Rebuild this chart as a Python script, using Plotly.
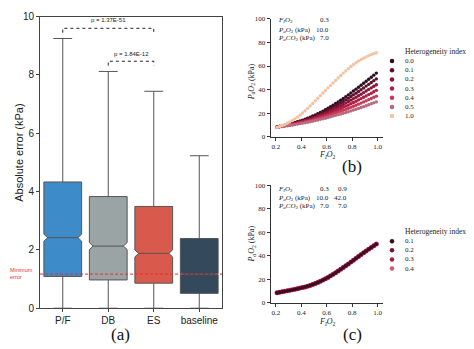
import plotly.graph_objects as go

# ---------------- data: panel (a) ----------------
methods = ["P/F", "DB", "ES", "baseline"]
upper_whisker = [9.25, 8.12, 7.44, 5.23]
q3_vals = [4.33, 3.83, 3.49, 2.39]
median_vals = [2.42, 2.13, 1.88, 1.17]
q1_vals = [1.09, 0.97, 0.86, 0.51]
lower_whisker = [0.0, 0.0, 0.0, 0.0]
notch_half = [0.12, 0.12, 0.12, 0.02]
box_colors = ["#3d8bc8", "#9aa4a5", "#d85a4c", "#35495d"]
min_error = 1.17
p_labels = ["p = 1.37E-51", "p = 1.84E-12"]

# ---------------- data: panel (b) ----------------
fio2 = [0.21, 0.23, 0.25, 0.27, 0.29, 0.31, 0.33, 0.35, 0.37, 0.39,
        0.41, 0.43, 0.45, 0.47, 0.49, 0.51, 0.53, 0.55, 0.57, 0.59,
        0.61, 0.63, 0.65, 0.67, 0.69, 0.71, 0.73, 0.75, 0.77, 0.79,
        0.81, 0.83, 0.85, 0.87, 0.89, 0.91, 0.93, 0.95, 0.97, 0.99]

b_h00 = [8.4, 8.9, 9.4, 9.9, 10.4, 11.0, 11.6, 12.2, 12.8, 13.5,
         14.2, 15.0, 15.8, 16.7, 17.6, 18.6, 19.6, 20.7, 21.8, 23.0,
         24.2, 25.5, 26.8, 28.2, 29.6, 31.0, 32.5, 34.0, 35.6, 37.2,
         38.8, 40.4, 42.0, 43.7, 45.4, 47.1, 48.8, 50.5, 52.3, 54.0]
b_h01 = [8.4, 8.8, 9.3, 9.7, 10.2, 10.7, 11.3, 11.8, 12.4, 13.0,
         13.7, 14.4, 15.1, 15.9, 16.7, 17.6, 18.5, 19.5, 20.5, 21.6,
         22.6, 23.8, 25.0, 26.2, 27.4, 28.7, 30.0, 31.3, 32.7, 34.2,
         35.6, 37.0, 38.4, 39.9, 41.4, 43.0, 44.5, 46.0, 47.6, 49.1]
b_h02 = [8.3, 8.7, 9.2, 9.6, 10.0, 10.5, 11.0, 11.5, 12.0, 12.6,
         13.2, 13.8, 14.4, 15.1, 15.9, 16.7, 17.5, 18.3, 19.2, 20.1,
         21.1, 22.1, 23.1, 24.2, 25.3, 26.4, 27.5, 28.6, 29.9, 31.1,
         32.4, 33.6, 34.8, 36.1, 37.5, 38.8, 40.2, 41.5, 42.9, 44.2]
b_h03 = [8.3, 8.7, 9.0, 9.4, 9.8, 10.2, 10.6, 11.1, 11.6, 12.1,
         12.6, 13.2, 13.8, 14.4, 15.0, 15.7, 16.4, 17.2, 17.9, 18.7,
         19.5, 20.4, 21.3, 22.2, 23.1, 24.0, 25.0, 26.0, 27.0, 28.1,
         29.1, 30.2, 31.3, 32.4, 33.5, 34.7, 35.8, 37.0, 38.2, 39.4]
b_h04 = [8.2, 8.6, 8.9, 9.3, 9.6, 10.0, 10.3, 10.8, 11.2, 11.7,
         12.1, 12.6, 13.1, 13.6, 14.2, 14.8, 15.4, 16.0, 16.6, 17.2,
         18.0, 18.7, 19.4, 20.2, 21.0, 21.7, 22.5, 23.3, 24.2, 25.0,
         25.9, 26.8, 27.7, 28.6, 29.6, 30.5, 31.5, 32.5, 33.5, 34.5]
b_h05 = [8.2, 8.5, 8.8, 9.1, 9.4, 9.7, 10.0, 10.4, 10.8, 11.2,
         11.6, 12.0, 12.4, 12.8, 13.3, 13.8, 14.3, 14.8, 15.3, 15.8,
         16.4, 17.0, 17.6, 18.2, 18.8, 19.4, 20.0, 20.6, 21.3, 22.0,
         22.7, 23.4, 24.1, 24.8, 25.6, 26.4, 27.2, 28.0, 28.8, 29.6]
b_h10 = [8.0, 8.8, 9.6, 10.5, 11.5, 12.6, 13.8, 15.2, 16.7, 18.4,
         20.2, 22.1, 24.1, 26.2, 28.3, 30.5, 32.7, 34.9, 37.1, 39.3,
         41.5, 43.6, 45.7, 47.8, 49.9, 52.0, 54.0, 55.9, 57.8, 59.6,
         61.3, 62.8, 64.2, 65.5, 66.7, 67.8, 68.8, 69.7, 70.5, 71.2]
b_levels = ["0.0", "0.1", "0.2", "0.3", "0.4", "0.5", "1.0"]
b_series = [b_h00, b_h01, b_h02, b_h03, b_h04, b_h05, b_h10]
b_colors = ["#2a0f1f", "#5e0f2d", "#8a1538", "#b01c42", "#c83a55", "#b7697d", "#f2c2a2"]
b_table_labels = ["<i>F</i><sub><i>I</i></sub><i>O</i><sub>2</sub>",
                  "<i>P</i><sub><i>a</i></sub><i>O</i><sub>2</sub> (kPa)",
                  "<i>P</i><sub><i>a</i></sub><i>CO</i><sub>2</sub> (kPa)"]
b_table_values = [["0.3"], ["10.0"], ["7.0"]]

# ---------------- data: panel (c) ----------------
c_curve = [8.6, 9.1, 9.5, 9.9, 10.3, 10.7, 11.1, 11.6, 12.1, 12.6,
           13.1, 13.6, 14.2, 14.9, 15.7, 16.5, 17.4, 18.4, 19.4, 20.5,
           21.7, 23.0, 24.3, 25.7, 27.1, 28.6, 30.1, 31.6, 33.1, 34.7,
           36.3, 37.9, 39.5, 41.1, 42.7, 44.2, 45.7, 47.2, 48.6, 50.0]
c_levels = ["0.1", "0.2", "0.3", "0.4"]
c_series = [c_curve, c_curve, c_curve, c_curve]
c_colors = ["#3a0c22", "#7a1235", "#a8183f", "#d0566f"]
c_table_values = [["0.3", "0.9"], ["10.0", "42.0"], ["7.0", "7.0"]]

W, H = 474, 349
def px(x):
    return x / W
def py(y):
    return 1 - y / H

SANS = "Liberation Sans, Arial, sans-serif"
SERIF = "Liberation Serif, Times New Roman, serif"
TXT = "#222222"

fig = go.Figure()

# ---- panel (a) boxes ----
for i, m in enumerate(methods):
    fig.add_trace(go.Box(
        x=[m], q1=[q1_vals[i]], median=[median_vals[i]], q3=[q3_vals[i]],
        lowerfence=[lower_whisker[i]], upperfence=[upper_whisker[i]],
        notched=True, notchspan=[notch_half[i]], notchwidth=0.1,
        width=0.83, whiskerwidth=0.5, boxpoints=False,
        fillcolor=box_colors[i], line=dict(color="#555555", width=1),
        showlegend=False, hoverinfo="skip", xaxis="x", yaxis="y"))

# ---- panel (b) scatter ----
for lvl, ys, col in zip(b_levels, b_series, b_colors):
    fig.add_trace(go.Scatter(x=fio2, y=ys, mode="markers",
                             marker=dict(color=col, size=3.4, line=dict(width=0)),
                             showlegend=False, xaxis="x2", yaxis="y2"))

# ---- panel (c) scatter (lighter drawn first, slightly bigger) ----
for k in range(len(c_levels) - 1, -1, -1):
    fig.add_trace(go.Scatter(x=fio2, y=c_series[k], mode="markers",
                             marker=dict(color=c_colors[k], size=3.2 + 0.6 * k, line=dict(width=0)),
                             showlegend=False, xaxis="x3", yaxis="y3"))

# ---- manual legends (markers on hidden axes) ----
fig.add_trace(go.Scatter(x=[0] * len(b_levels), y=list(range(len(b_levels))), mode="markers",
                         marker=dict(color=b_colors, size=4.5), showlegend=False,
                         xaxis="x4", yaxis="y4", hoverinfo="skip"))
fig.add_trace(go.Scatter(x=[0] * len(c_levels), y=list(range(len(c_levels))), mode="markers",
                         marker=dict(color=c_colors, size=4.5), showlegend=False,
                         xaxis="x5", yaxis="y5", hoverinfo="skip"))

annotations = []
shapes = []
small = dict(family=SERIF, size=7, color=TXT)

# legend labels
for i, lvl in enumerate(b_levels):
    annotations.append(dict(x=11, y=i, xref="x4", yref="y4", text=lvl, showarrow=False,
                            xanchor="left", yanchor="middle", font=small))
for i, lvl in enumerate(c_levels):
    annotations.append(dict(x=11, y=i, xref="x5", yref="y5", text=lvl, showarrow=False,
                            xanchor="left", yanchor="middle", font=small))
for ty in [47, 234]:
    annotations.append(dict(x=px(403), y=py(ty), xref="paper", yref="paper", text="Heterogeneity index",
                            showarrow=False, xanchor="left", yanchor="middle",
                            font=dict(family=SERIF, size=7.5, color=TXT)))

# tables
b_rows_y = [15, 24.5, 33.5]
c_rows_y = [190, 198.5, 207]
for r, lab in enumerate(b_table_labels):
    for rows_y, vals in [(b_rows_y, b_table_values), (c_rows_y, c_table_values)]:
        annotations.append(dict(x=px(276), y=py(rows_y[r]), xref="paper", yref="paper", text=lab,
                                showarrow=False, xanchor="left", yanchor="middle", font=small))
        for c, v in enumerate(vals[r]):
            annotations.append(dict(x=px(331 + 18 * c), y=py(rows_y[r]), xref="paper", yref="paper",
                                    text=v, showarrow=False, xanchor="right", yanchor="middle",
                                    font=small))

# axis titles for (b) and (c)
fio2_title = "<i>F</i><sub><i>I</i></sub><i>O</i><sub>2</sub>"
pao2_title = "<i>P</i><sub><i>a</i></sub><i>O</i><sub>2</sub> (kPa)"
for tx_y, ty_y in [(154, 78), (327, 246)]:
    annotations.append(dict(x=px(327), y=py(tx_y), xref="paper", yref="paper", text=fio2_title,
                            showarrow=False, xanchor="center", yanchor="middle",
                            font=dict(family=SERIF, size=8, color=TXT)))
    annotations.append(dict(x=px(252), y=py(ty_y), xref="paper", yref="paper", text=pao2_title,
                            showarrow=False, xanchor="center", yanchor="middle", textangle=-90,
                            font=dict(family=SERIF, size=8, color=TXT)))

# panel labels
for lab, x, y in [("(a)", 120, 340), ("(b)", 352, 166), ("(c)", 352, 340)]:
    annotations.append(dict(x=px(x), y=py(y), xref="paper", yref="paper", text=lab, showarrow=False,
                            xanchor="center", yanchor="middle",
                            font=dict(family=SERIF, size=17, color="#111")))

# panel (a) y title
annotations.append(dict(x=px(19), y=py(152), xref="paper", yref="paper", text="Absolute error (kPa)",
                        showarrow=False, textangle=-90, xanchor="center", yanchor="middle",
                        font=dict(family=SANS, size=11, color=TXT)))
# minimum error text
annotations.append(dict(x=px(21), y=py(277), xref="paper", yref="paper", text="Minimum<br>error",
                        showarrow=False, xanchor="center", yanchor="middle", align="left",
                        font=dict(family=SANS, size=5.5, color="#e8302a")))

# min error line
shapes.append(dict(type="line", xref="x domain", yref="y", x0=0, x1=1, y0=min_error, y1=min_error,
                   line=dict(color="#e8302a", width=1, dash="3px,2px"), layer="above"))

# significance brackets
brackets = [(0, 2, 9.6, 9.45, 9.87), (1, 2, 8.47, 8.32, 8.72)]
for (i0, i1, yb, yl, yt), lab in zip(brackets, p_labels):
    shapes.append(dict(type="path", xref="x", yref="y",
                       path=f"M {i0},{yl} L {i0},{yb} L {i1},{yb} L {i1},{yl}",
                       line=dict(color="#222", width=1, dash="dot")))
    annotations.append(dict(x=(i0 + i1) / 2, y=yt, xref="x", yref="y", text=lab, showarrow=False,
                            xanchor="center", yanchor="middle",
                            font=dict(family=SANS, size=6, color=TXT)))

serif_tick = dict(family=SERIF, size=7, color=TXT)
common_b = dict(showline=True, linecolor="#333", linewidth=1, ticks="outside", ticklen=3,
                tickcolor="#333", showgrid=False, zeroline=False, tickfont=serif_tick)
fig.update_layout(
    width=W, height=H, margin=dict(l=0, r=0, t=0, b=0),
    paper_bgcolor="white", plot_bgcolor="white",
    boxmode="overlay", showlegend=False,
    annotations=annotations, shapes=shapes,
    xaxis=dict(domain=[px(40), px(222)], type="category", range=[-0.5, 3.5],
               showline=True, mirror=True, linecolor="#444", linewidth=1,
               ticks="outside", ticklen=3, tickcolor="#444", showgrid=False, zeroline=False,
               tickfont=dict(family=SANS, size=10, color=TXT)),
    yaxis=dict(domain=[py(313), py(11)], range=[0, 10], tickvals=[0, 2, 4, 6, 8, 10],
               showline=True, mirror=True, linecolor="#444", linewidth=1,
               ticks="outside", ticklen=3, tickcolor="#444", showgrid=False, zeroline=False,
               tickfont=dict(family=SANS, size=10, color=TXT)),
    xaxis2=dict(domain=[px(270.7), px(382.7)], range=[0.16, 1.04], tickvals=[0.2, 0.4, 0.6, 0.8, 1.0],
                ticktext=["0.2", "0.4", "0.6", "0.8", "1.0"], anchor="y2", **common_b),
    yaxis2=dict(domain=[py(135.5), py(13.3)], range=[0, 100], tickvals=[0, 20, 40, 60, 80, 100],
                anchor="x2", **common_b),
    xaxis3=dict(domain=[px(270.7), px(382.7)], range=[0.16, 1.04], tickvals=[0.2, 0.4, 0.6, 0.8, 1.0],
                ticktext=["0.2", "0.4", "0.6", "0.8", "1.0"], anchor="y3", **common_b),
    yaxis3=dict(domain=[py(307.5), py(185.7)], range=[0, 100], tickvals=[0, 20, 40, 60, 80, 100],
                anchor="x3", **common_b),
    xaxis4=dict(domain=[px(380), px(420)], range=[-12, 28], visible=False, anchor="y4"),
    yaxis4=dict(domain=[py(118.75), py(52.25)], range=[6.5, -0.5], visible=False, anchor="x4"),
    xaxis5=dict(domain=[px(380), px(420)], range=[-12, 28], visible=False, anchor="y5"),
    yaxis5=dict(domain=[py(276.6), py(238.8)], range=[3.5, -0.5], visible=False, anchor="x5"),
)

fig.write_html("out.html")
